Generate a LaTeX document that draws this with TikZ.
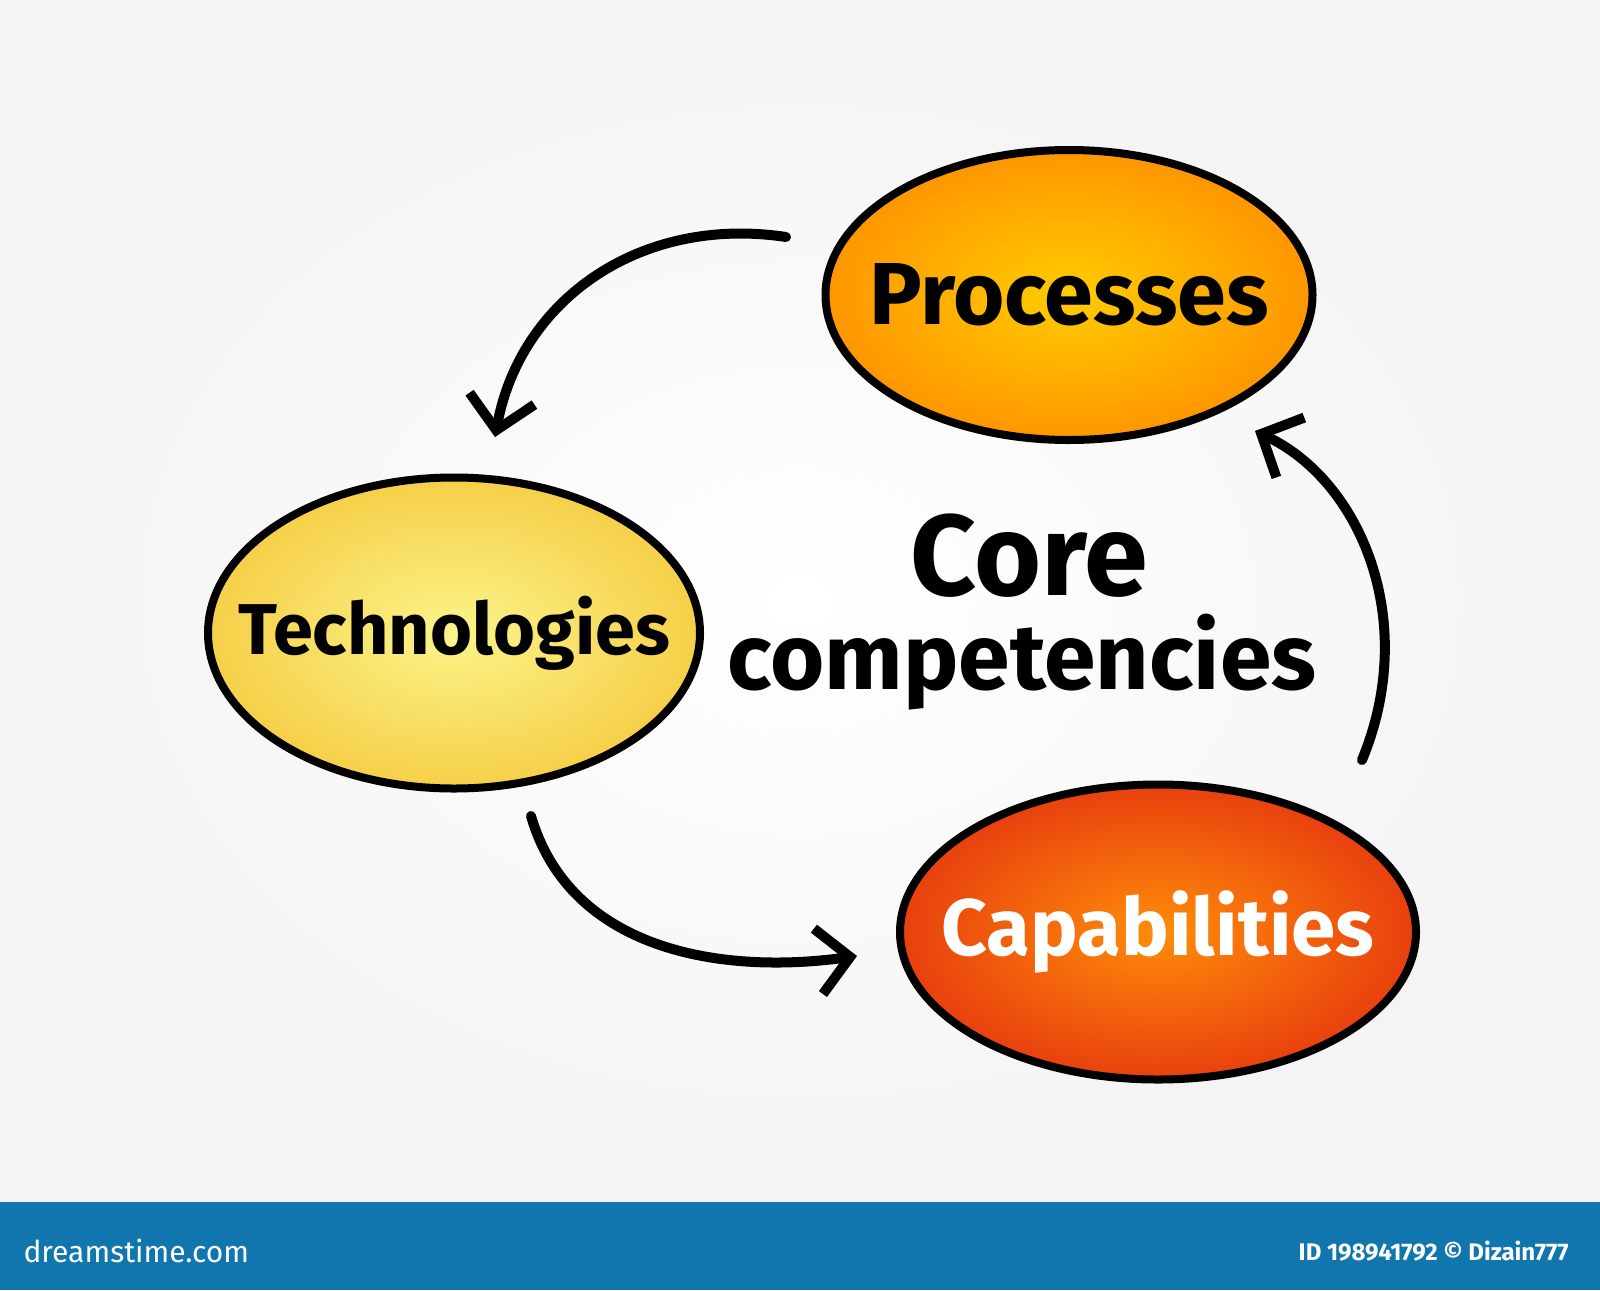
\documentclass[tikz,border=0pt]{standalone}
\usepackage{fontspec}
\setmainfont{Fira Sans}
\usetikzlibrary{shapes.geometric,arrows.meta}
\definecolor{barblue}{HTML}{1176AE}
\begin{document}
\begin{tikzpicture}[x=1pt,y=-1pt,line cap=round,line join=round,
  >={Straight Barb[length=32pt,width=66pt]},
  blob/.style={ellipse,draw=black,line width=8pt,inner sep=0pt},
  word/.style={inner sep=0pt,font=\bfseries\fontsize{#1}{#1}\selectfont}]
\useasboundingbox (0,0) rectangle (1600,1290);
\shade[inner color=white,outer color=gray!9] (0,0) rectangle (1600,1202);
\fill[barblue] (0,1202) rectangle (1600,1290);
% the three bubbles
\node[blob,minimum width=487pt,minimum height=290pt,inner color={rgb,255:red,255;green,204;blue,0},outer color={rgb,255:red,255;green,150;blue,0},
  label={[word=88]center:Processes}] (proc) at (1069,295) {};
\node[blob,minimum width=492pt,minimum height=311pt,inner color={rgb,255:red,251;green,244;blue,138},outer color={rgb,255:red,246;green,207;blue,72},
  label={[word=72]center:Technologies}] (tech) at (454,633) {};
\node[blob,minimum width=516pt,minimum height=295pt,inner color={rgb,255:red,255;green,140;blue,10},outer color={rgb,255:red,232;green,64;blue,14},
  label={[word=80,text=white]center:Capabilities}] (capa) at (1158,932) {};
\node[word=115] (core) at (1029,556) {Core};
\node[word=93] (comp) at (1022,662) {competencies};
% arrow ends
\coordinate (a1) at (786,237);
\coordinate (a2) at (495,437);
\coordinate (b1) at (531,816);
\coordinate (b2) at (857,956);
\coordinate (c1) at (1362,760);
\coordinate (c2) at (1255,431);
\draw[->,line width=10pt] (a1) .. controls (640,215) and (520,300) .. (a2);
\draw[->,line width=10pt] (b1) .. controls (570,950) and (720,975) .. (b2);
\draw[->,line width=10pt] (c1) .. controls (1420,620) and (1360,480) .. (c2);
% footer
\node[anchor=west,text=white,font=\fontsize{30}{30}\selectfont] (site) at (20,1251) {dreamstime.com};
\node[anchor=east,text=white,font=\bfseries\fontsize{24}{24}\selectfont] (imgid) at (1572,1251) {ID 198941792 © Dizain777};
\end{tikzpicture}
\end{document}
